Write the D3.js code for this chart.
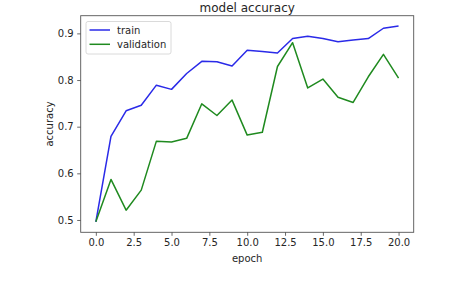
<!DOCTYPE html>
<html>
<head>
<meta charset="utf-8">
<script src="https://cdn.jsdelivr.net/npm/d3@7"></script>
<style>
  html, body { margin: 0; padding: 0; background: #fff; }
  svg { display: block; }
  text { font-family: "DejaVu Sans", sans-serif; fill: #262626; }
</style>
</head>
<body>
<div id="chart"></div>
<script>
const epochs = d3.range(0, 21);
const trainAcc = [0.496, 0.679, 0.734, 0.746, 0.789, 0.780, 0.814, 0.840, 0.839, 0.830, 0.864,
                  0.861, 0.858, 0.889, 0.894, 0.889, 0.882, 0.886, 0.889, 0.911, 0.916];
const valAcc = [0.496, 0.587, 0.521, 0.564, 0.669, 0.667, 0.675, 0.749, 0.724, 0.757, 0.682,
                0.688, 0.829, 0.880, 0.783, 0.802, 0.763, 0.752, 0.807, 0.855, 0.804];
const xTicks = [0, 2.5, 5, 7.5, 10, 12.5, 15, 17.5, 20];
const yTicks = [0.5, 0.6, 0.7, 0.8, 0.9];
const seriesNames = ["train", "validation"];
const seriesColors = ["#2a2ae8", "#1f8a1f"];

const W = 474, H = 281;
const plot = { left: 80.7, right: 413.7, top: 15.7, bottom: 232.3 };

const svg = d3.select("#chart").append("svg").attr("width", W).attr("height", H);

const x = d3.scaleLinear().domain([-1, 21]).range([plot.left, plot.right]);
const y = d3.scaleLinear().domain([0.4736, 0.9379]).range([plot.bottom, plot.top]);

// frame
svg.append("rect")
  .attr("x", plot.left).attr("y", plot.top)
  .attr("width", plot.right - plot.left).attr("height", plot.bottom - plot.top)
  .attr("fill", "none").attr("stroke", "#555").attr("stroke-width", 0.9);

// axes
const xAxis = d3.axisBottom(x).tickValues(xTicks).tickFormat(d3.format(".1f")).tickSize(3.5).tickPadding(3.5);
const gx = svg.append("g").attr("transform", `translate(0,${plot.bottom})`).call(xAxis);
const yAxis = d3.axisLeft(y).tickValues(yTicks).tickFormat(d3.format(".1f")).tickSize(3.5).tickPadding(3.5);
const gy = svg.append("g").attr("transform", `translate(${plot.left},0)`).call(yAxis);
[gx, gy].forEach(g => {
  g.select(".domain").remove();
  g.selectAll(".tick line").attr("stroke", "#444").attr("stroke-width", 0.8);
  g.selectAll(".tick text").attr("font-size", 10).attr("font-family", "DejaVu Sans, sans-serif").attr("fill", "#262626");
});

// lines
const line = d3.line().x((d, i) => x(epochs[i])).y(d => y(d));
[trainAcc, valAcc].forEach((data, k) => {
  svg.append("path").datum(data)
    .attr("d", line)
    .attr("fill", "none")
    .attr("stroke", seriesColors[k])
    .attr("stroke-width", 1.5)
    .attr("stroke-linejoin", "round");
});

// title & labels
svg.append("text").attr("x", (plot.left + plot.right) / 2).attr("y", 11.5)
  .attr("text-anchor", "middle").attr("font-size", 12).text("model accuracy");
svg.append("text").attr("x", (plot.left + plot.right) / 2).attr("y", 262)
  .attr("text-anchor", "middle").attr("font-size", 10).text("epoch");
svg.append("text")
  .attr("transform", `translate(52.5,${(plot.top + plot.bottom) / 2}) rotate(-90)`)
  .attr("text-anchor", "middle").attr("font-size", 10).text("accuracy");

// legend
const lg = svg.append("g");
lg.append("rect").attr("x", 86).attr("y", 21.5).attr("width", 85).attr("height", 32.5)
  .attr("rx", 2).attr("fill", "#fff").attr("fill-opacity", 0.8)
  .attr("stroke", "#d0d0d0").attr("stroke-width", 0.8);
seriesNames.forEach((name, i) => {
  const yy = 30 + i * 14.3;
  lg.append("line").attr("x1", 89.5).attr("x2", 110).attr("y1", yy).attr("y2", yy)
    .attr("stroke", seriesColors[i]).attr("stroke-width", 1.5);
  lg.append("text").attr("x", 117).attr("y", yy + 3.6).attr("font-size", 10).text(name);
});
</script>
</body>
</html>
